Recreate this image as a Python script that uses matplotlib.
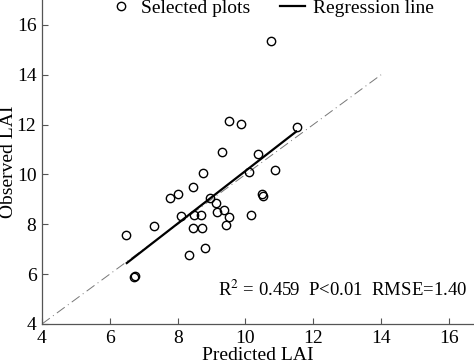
import numpy as np
import matplotlib
matplotlib.use("Agg")
import matplotlib.pyplot as plt

plt.rcParams['font.family'] = ['Liberation Serif', 'DejaVu Serif']
plt.rcParams['mathtext.fontset'] = 'stix'

# predicted vs observed LAI for the selected plots
predicted = [10.75, 9.52, 9.86, 11.51, 9.32, 10.37, 8.75, 10.09, 10.86, 8.46,
             8.01, 7.77, 8.94, 9.14, 10.48, 10.53, 9.36, 9.16, 9.52, 8.10,
             8.49, 8.68, 10.16, 7.29, 8.46, 8.73, 9.42, 8.80, 8.33, 6.49,
             6.71, 6.75]
observed = [15.35, 12.13, 12.03, 11.91, 10.89, 10.83, 10.05, 10.08, 10.16, 9.50,
            9.21, 9.05, 9.05, 8.86, 9.21, 9.14, 8.58, 8.50, 8.30, 8.32,
            8.36, 8.36, 8.36, 7.94, 7.86, 7.87, 7.98, 7.04, 6.77, 7.55,
            5.90, 5.93]
reg_x = [6.5, 11.5]
reg_slope = 1.056
reg_intercept = -0.42
one_to_one = [4, 14]
ticks = [4, 6, 8, 10, 12, 14, 16]

fig = plt.figure(figsize=(4.74, 3.64), dpi=100)
ax = fig.add_axes([0.0886, 0.110, 0.9114, 0.890])

ax.plot(one_to_one, one_to_one, color='#777777', lw=0.7, dashes=[10, 4, 1, 4])
ax.plot(predicted, observed, 'o', mfc='none', mec='black', ms=6, mew=1.0,
        label='Selected plots')
rx = np.array(reg_x)
ax.plot(rx, reg_slope * rx + reg_intercept, color='black', lw=1.6,
        label='Regression line')

ax.set_xlim(4, 16.74)
ax.set_ylim(4, 17.0)
ax.set_xticks(ticks)
ax.set_yticks(ticks)
ax.tick_params(direction='in', length=4, width=0.8, labelsize=14, pad=4,
               color='#555555')
for s in ['top', 'right']:
    ax.spines[s].set_visible(False)
for s in ['left', 'bottom']:
    ax.spines[s].set_color('#555555')
    ax.spines[s].set_linewidth(0.9)

ax.set_xlabel('Predicted LAI', fontsize=14, labelpad=0)
ax.set_ylabel('Observed LAI', fontsize=14, labelpad=0)

ax.text(0.985, 0.105, r'R$^{2}$ = 0.459  P<0.01  RMSE=1.40', transform=ax.transAxes,
        ha='right', va='center', fontsize=13.5)

leg = ax.legend(loc='upper center', bbox_to_anchor=(0.53, 1.057), ncol=2,
                frameon=False, fontsize=14, handlelength=1.3, handletextpad=0.4,
                columnspacing=1.5)

fig.savefig('out.png', dpi=100)
